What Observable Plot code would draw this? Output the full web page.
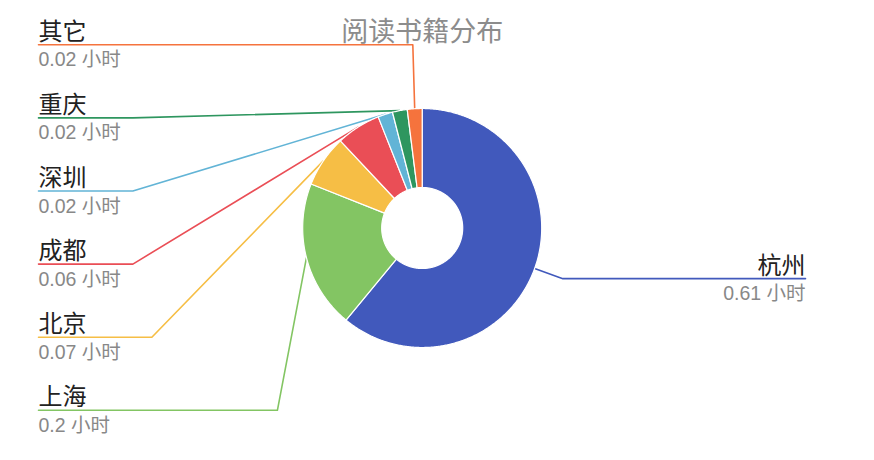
<!DOCTYPE html>
<html>
<head>
<meta charset="utf-8">
<script src="https://cdn.jsdelivr.net/npm/d3@7"></script>
<script src="https://cdn.jsdelivr.net/npm/@observablehq/plot@0.6"></script>
<style>
  html, body { margin: 0; padding: 0; background: #fff; }
  #chart { width: 874px; height: 460px; }
</style>
</head>
<body>
<div id="chart"></div>
<script>
// ---- data ----
const names = ["杭州", "上海", "北京", "成都", "深圳", "重庆", "其它"];
const values = [0.61, 0.2, 0.07, 0.06, 0.02, 0.02, 0.02];
const colors = ["#4159bc", "#83c563", "#f6be45", "#ea4e56", "#62b4d6", "#2e965f", "#f5733d"];
const titleText = "阅读书籍分布";
const unit = "小时";

// ---- layout ----
const W = 874, H = 460;
const CX = 421.7, CY = 227.5, R_OUT = 119.5, R_IN = 40.5;
const LINE_LEN = 30, MAX_SURF = 80;
const EDGE_L = 38, EDGE_R = 805, LABEL_GAP = 12;
const ROW_TOP = 44.3, ROW_STEP = 73.1;
const FONT = "'Liberation Sans', 'Noto Sans CJK SC', sans-serif";
const NAME_SIZE = 24, VALUE_SIZE = 19.5;

const ctx = document.createElement("canvas").getContext("2d");
function textWidth(t, size) { ctx.font = `${size}px ${FONT}`; return ctx.measureText(t).width; }

const arcs = d3.pie().sort(null).startAngle(0).endAngle(2 * Math.PI)(values);

// slice polygons
const slicePts = [];
arcs.forEach((a, i) => {
  const n = Math.max(2, Math.ceil((a.endAngle - a.startAngle) / (Math.PI / 360)));
  for (let k = 0; k <= n; k++) {
    const t = a.startAngle + (a.endAngle - a.startAngle) * k / n;
    slicePts.push({name: names[i], x: CX + R_OUT * Math.sin(t), y: CY - R_OUT * Math.cos(t)});
  }
  for (let k = n; k >= 0; k--) {
    const t = a.startAngle + (a.endAngle - a.startAngle) * k / n;
    slicePts.push({name: names[i], x: CX + R_IN * Math.sin(t), y: CY - R_IN * Math.cos(t)});
  }
});

// labels
const labels = arcs.map((a, i) => {
  const mid = (a.startAngle + a.endAngle) / 2;
  const nx = Math.sin(mid), ny = -Math.cos(mid);
  const left = nx < 0;
  const valueText = `${values[i]} ${unit}`;
  const w = Math.max(textWidth(names[i], NAME_SIZE), textWidth(valueText, VALUE_SIZE));
  return {
    name: names[i], valueText, left, nx, ny, w,
    p0: [CX + R_OUT * nx, CY + R_OUT * ny],
    x1: CX + (R_OUT + LINE_LEN) * nx,
    y1: CY + (R_OUT + LINE_LEN) * ny
  };
});
// stack left labels in rows
labels.filter(d => d.left).sort((a, b) => a.y1 - b.y1).forEach((d, i) => { d.rowY = ROW_TOP + i * ROW_STEP; });
labels.filter(d => !d.left).forEach(d => { d.rowY = d.y1; });

function limitSurfaceAngle(p0, p1, p2, normal, maxDeg) {
  const maxA = maxDeg * Math.PI / 180;
  let d1 = [p1[0] - p0[0], p1[1] - p0[1]], d2 = [p2[0] - p1[0], p2[1] - p1[1]];
  const l1 = Math.hypot(...d1), l2 = Math.hypot(...d2);
  if (l1 < 1e-3 || l2 < 1e-3) return p1;
  d1 = [d1[0] / l1, d1[1] / l1]; d2 = [d2[0] / l2, d2[1] / l2];
  const cosA = d1[0] * normal[0] + d1[1] * normal[1];
  if (cosA >= Math.cos(maxA)) return p1;
  const s = (p0[0] - p1[0]) * d2[0] + (p0[1] - p1[1]) * d2[1];
  const proj = [p1[0] + d2[0] * s, p1[1] + d2[1] * s];
  const dist = Math.hypot(p0[0] - proj[0], p0[1] - proj[1]);
  const angle2 = Math.acos(Math.max(-1, Math.min(1, d2[0] * normal[0] + d2[1] * normal[1])));
  const newAngle = Math.PI / 2 + angle2 - maxA;
  if (newAngle >= Math.PI / 2) return p2;
  const off = dist / Math.tan(Math.PI / 2 - newAngle);
  const q = [proj[0] + d2[0] * off, proj[1] + d2[1] * off];
  const t = p2[0] !== p1[0] ? (q[0] - p1[0]) / (p2[0] - p1[0]) : (q[1] - p1[1]) / (p2[1] - p1[1]);
  if (t < 0) return p1;
  if (t > 1) return p2;
  return q;
}

const linePts = [];
labels.forEach(d => {
  const p1 = [d.x1, d.rowY];
  const p2c = [d.left ? EDGE_L + d.w + LABEL_GAP : EDGE_R - d.w - LABEL_GAP, d.rowY];
  const elbow = limitSurfaceAngle(d.p0, p1, p2c, [d.nx, d.ny], MAX_SURF);
  const end = [d.left ? EDGE_L : EDGE_R, d.rowY];
  [d.p0, elbow, end].forEach(p => linePts.push({name: d.name, x: p[0], y: p[1]}));
  d.tx = end[0];
});

const leftLabels = labels.filter(d => d.left), rightLabels = labels.filter(d => !d.left);
const textMarks = (data, anchor) => [
  Plot.text(data, {x: "tx", y: "rowY", text: "name", textAnchor: anchor, lineAnchor: "bottom", dy: -5,
    fontSize: NAME_SIZE, fill: "#222", fontFamily: FONT}),
  Plot.text(data, {x: "tx", y: "rowY", text: "valueText", textAnchor: anchor, lineAnchor: "bottom", dy: 21.5,
    fontSize: VALUE_SIZE, fill: "#888", fontFamily: FONT})
];

const chart = Plot.plot({
  width: W, height: H,
  marginTop: 0, marginRight: 0, marginBottom: 0, marginLeft: 0,
  x: {domain: [0, W], range: [0, W], axis: null},
  y: {domain: [0, H], range: [0, H], axis: null},
  color: {domain: names, range: colors},
  style: {background: "#fff", overflow: "visible", fontFamily: FONT},
  marks: [
    Plot.text([titleText], {x: () => CX, y: () => 40, text: d => d, lineAnchor: "bottom",
      fontSize: 27, fill: "#8c8c8c", fontFamily: FONT}),
    Plot.line(linePts, {x: "x", y: "y", z: "name", stroke: "name", strokeWidth: 1.6}),
    Plot.line(slicePts, {x: "x", y: "y", z: "name", fill: "name", stroke: "#fff", strokeWidth: 1.2, curve: "linear-closed"}),
    ...textMarks(leftLabels, "start"),
    ...textMarks(rightLabels, "end")
  ]
});
document.getElementById("chart").appendChild(chart);
</script>
</body>
</html>
